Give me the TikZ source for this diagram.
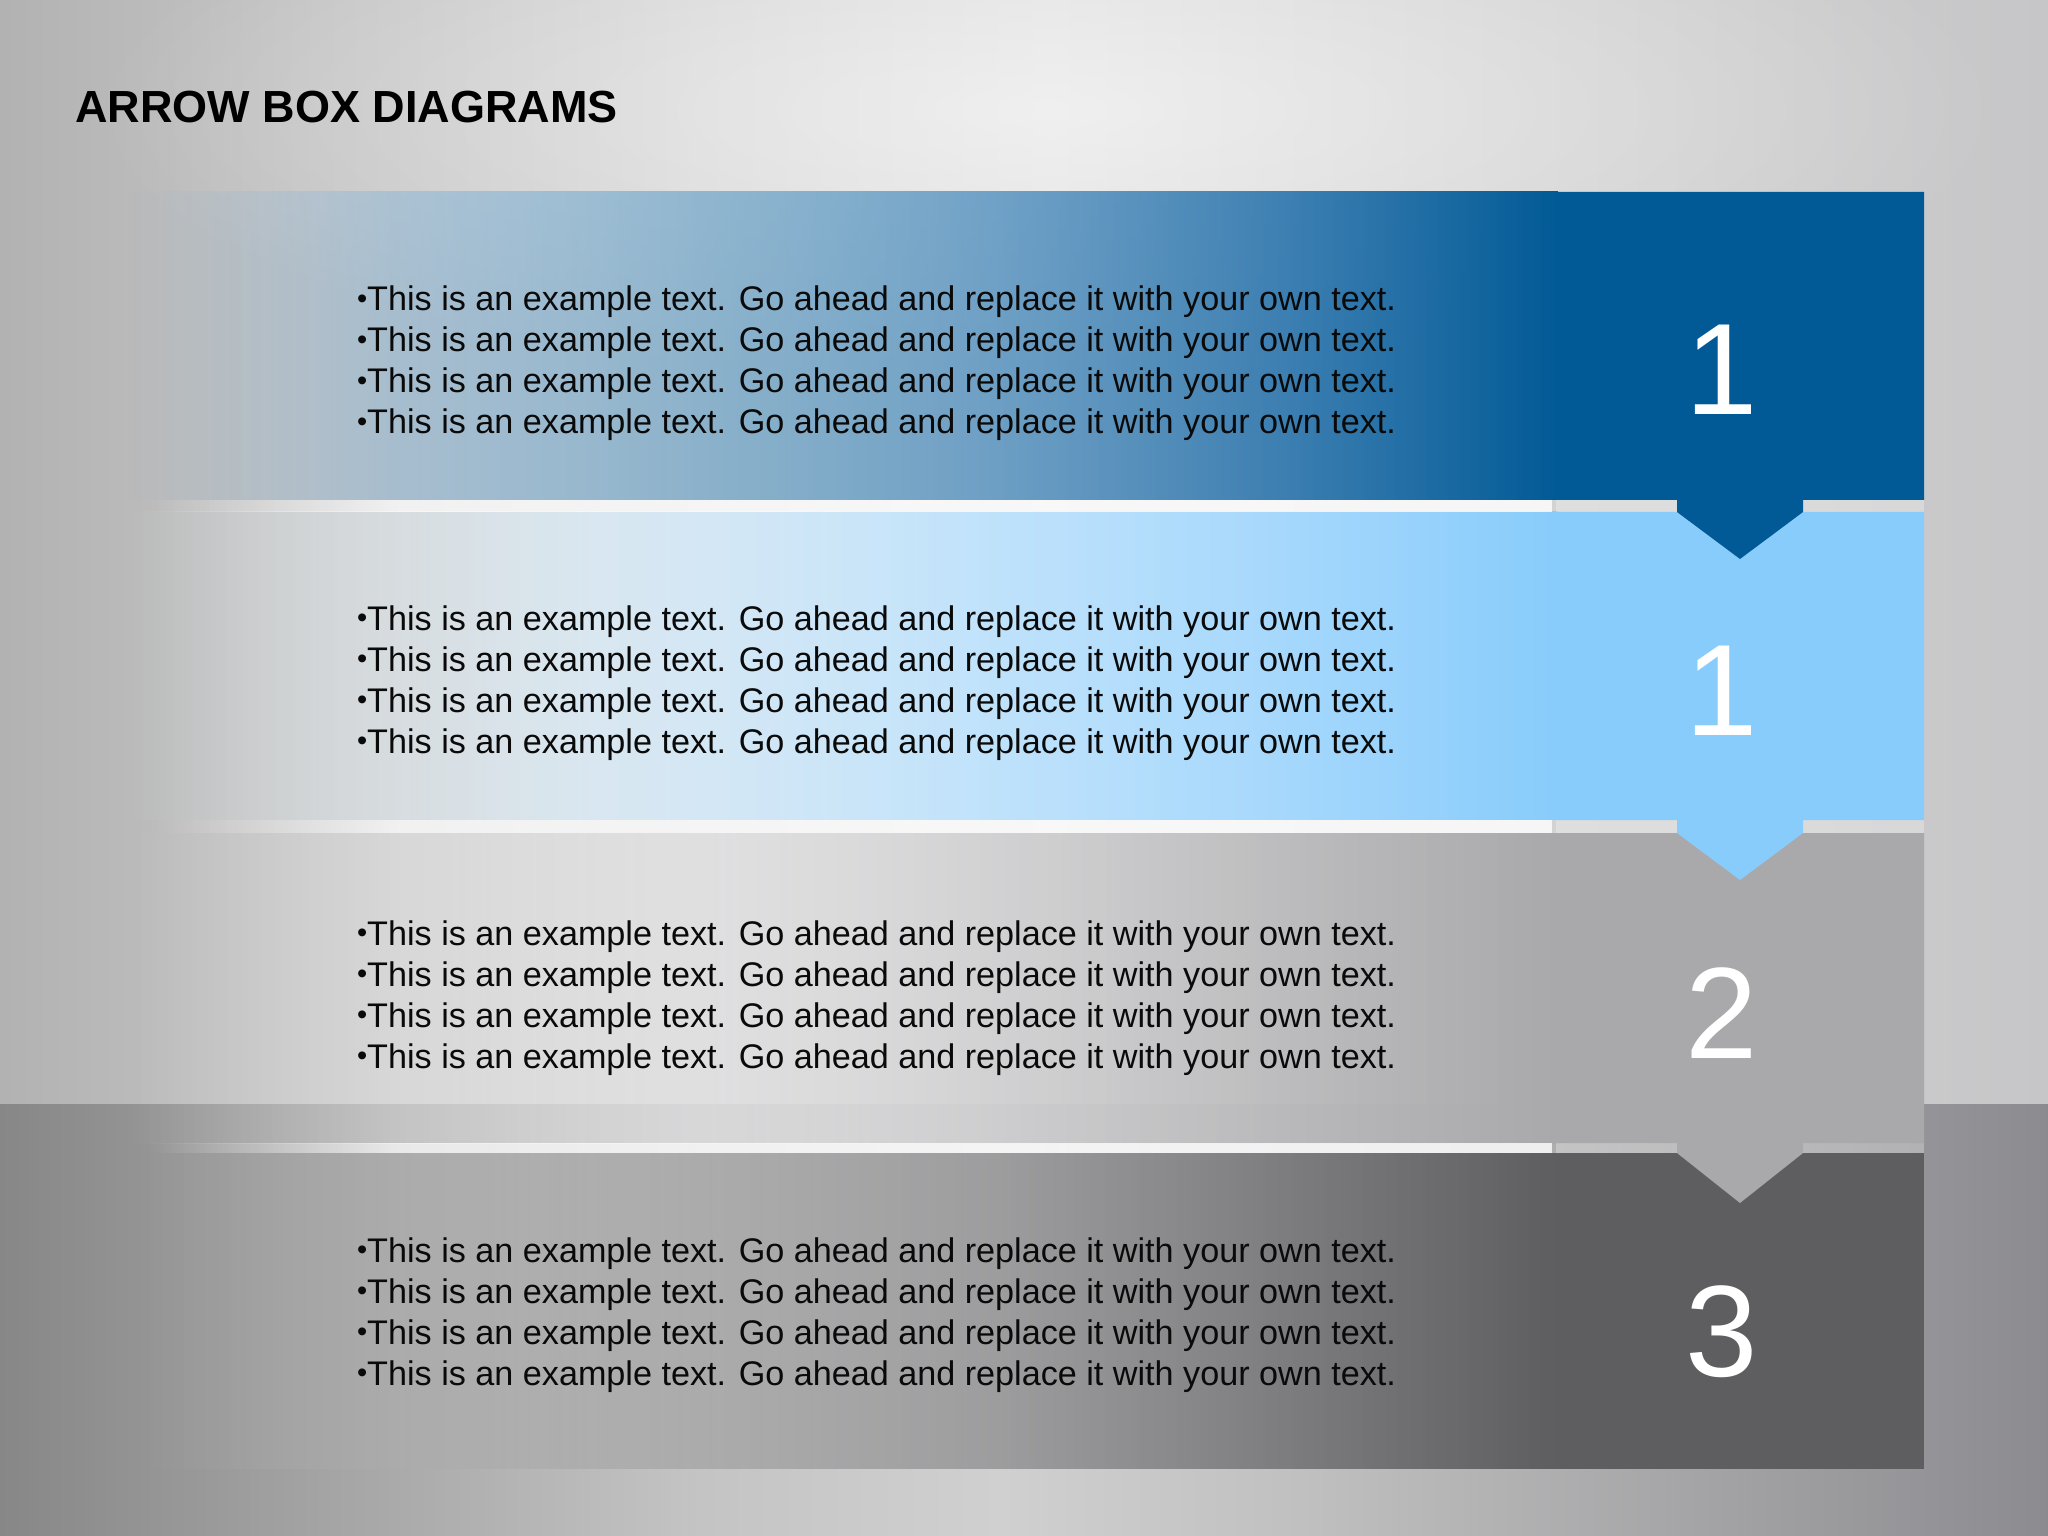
\documentclass[tikz,border=0pt]{standalone}
\usepackage{fontspec}
\setmainfont{Liberation Sans}
\usetikzlibrary{fadings}

% background colours
\definecolor{bgu0}{HTML}{B2B2B2}
\definecolor{bgu1}{HTML}{C4C4C4}
\definecolor{bgu2}{HTML}{D6D6D6}
\definecolor{bgu3}{HTML}{E0E0E0}
\definecolor{bgu4}{HTML}{D4D4D4}
\definecolor{bgu5}{HTML}{C6C6C8}
\definecolor{bgd0}{HTML}{878787}
\definecolor{bgd1}{HTML}{A2A2A2}
\definecolor{bgd2}{HTML}{C4C4C4}
\definecolor{bgd3}{HTML}{D0D0D0}
\definecolor{bgd4}{HTML}{C0C0C0}
\definecolor{bgd5}{HTML}{A4A4A6}
\definecolor{bgd6}{HTML}{8C8B90}

% band colours
\definecolor{b1a}{HTML}{7AB3DD}
\definecolor{b1b}{HTML}{68A9DA}
\definecolor{b1c}{HTML}{5095C2}
\definecolor{b1d}{HTML}{4789BB}
\definecolor{b1e}{HTML}{2873AC}
\definecolor{b1f}{HTML}{015A96}
\definecolor{b2a}{HTML}{F3FBFF}
\definecolor{b2b}{HTML}{F0FAFF}
\definecolor{b2c}{HTML}{DCF1FF}
\definecolor{b2d}{HTML}{BCE3FF}
\definecolor{b2e}{HTML}{A3D7FE}
\definecolor{b2f}{HTML}{88CCFC}
\definecolor{b3a}{HTML}{F6F6F8}
\definecolor{b3b}{HTML}{F4F4F6}
\definecolor{b3c}{HTML}{E8E8EA}
\definecolor{b3d}{HTML}{CDCDCF}
\definecolor{b3e}{HTML}{B8B8BA}
\definecolor{b3f}{HTML}{A9A9AB}
\definecolor{b4a}{HTML}{B4B4B4}
\definecolor{b4b}{HTML}{AEAEAE}
\definecolor{b4c}{HTML}{989899}
\definecolor{b4d}{HTML}{8C8C8E}
\definecolor{b4e}{HTML}{747477}
\definecolor{b4f}{HTML}{5E5E61}
\definecolor{txtcol}{HTML}{0A0A0A}

\colorlet{fa1}{white!35!black}
\colorlet{fa2}{white!55!black}
\colorlet{fa3}{white!75!black}
\colorlet{fa4}{white!90!black}
\colorlet{fb1}{white!30!black}
\colorlet{fb2}{white!70!black}
\colorlet{fb3}{white!90!black}
\colorlet{fb4}{white!97!black}
\colorlet{fs1}{white!75!black}
\colorlet{fs2}{white!80!black}

\pgfdeclarehorizontalshading{bgup}{100bp}{color(0bp)=(bgu0); color(25bp)=(bgu0); color(32.32bp)=(bgu1); color(42.09bp)=(bgu2); color(50.63bp)=(bgu3); color(61.62bp)=(bgu4); color(75bp)=(bgu5); color(100bp)=(bgu5)}
\pgfdeclarehorizontalshading{bgdown}{100bp}{color(0bp)=(bgd0); color(25bp)=(bgd0); color(32.32bp)=(bgd1); color(42.09bp)=(bgd2); color(49.41bp)=(bgd3); color(56.74bp)=(bgd4); color(66.5bp)=(bgd5); color(75bp)=(bgd6); color(100bp)=(bgd6)}

\pgfdeclarehorizontalshading{bandfadeshade}{100bp}{color(0bp)=(black); color(25bp)=(black); color(34.43bp)=(fa1); color(44.9bp)=(fa2); color(55.38bp)=(fa3); color(65.85bp)=(fa4); color(75bp)=(white); color(100bp)=(white)}
\pgfdeclarefading{bandfade}{\pgfuseshading{bandfadeshade}}
\pgfdeclarehorizontalshading{bandfadeshadeB}{100bp}{color(0bp)=(black); color(25bp)=(black); color(30.94bp)=(fb1); color(41.41bp)=(fb2); color(55.38bp)=(fb3); color(65.85bp)=(fb4); color(75bp)=(white); color(100bp)=(white)}
\pgfdeclarefading{bandfadeB}{\pgfuseshading{bandfadeshadeB}}
\pgfdeclarehorizontalshading{stripfadeshade}{100bp}{color(0bp)=(black); color(25bp)=(black); color(33.9bp)=(fs1); color(75bp)=(fs2); color(100bp)=(fs2)}
\pgfdeclarefading{stripfade}{\pgfuseshading{stripfadeshade}}
\tikzfading[name=softglow, inner color=transparent!0, outer color=transparent!100]

\pgfdeclarehorizontalshading{bandone}{100bp}{color(0bp)=(b1a); color(25bp)=(b1a); color(34.43bp)=(b1b); color(44.9bp)=(b1c); color(55.38bp)=(b1d); color(65.85bp)=(b1e); color(75bp)=(b1f); color(100bp)=(b1f)}
\pgfdeclarehorizontalshading{bandtwo}{100bp}{color(0bp)=(b2a); color(25bp)=(b2a); color(30.94bp)=(b2b); color(41.41bp)=(b2c); color(55.38bp)=(b2d); color(65.85bp)=(b2e); color(75bp)=(b2f); color(100bp)=(b2f)}
\pgfdeclarehorizontalshading{bandthree}{100bp}{color(0bp)=(b3a); color(25bp)=(b3a); color(34.43bp)=(b3b); color(44.9bp)=(b3c); color(55.38bp)=(b3d); color(65.85bp)=(b3e); color(75bp)=(b3f); color(100bp)=(b3f)}
\pgfdeclarehorizontalshading{bandfour}{100bp}{color(0bp)=(b4a); color(25bp)=(b4a); color(34.43bp)=(b4b); color(44.9bp)=(b4c); color(55.38bp)=(b4d); color(65.85bp)=(b4e); color(75bp)=(b4f); color(100bp)=(b4f)}

\tikzset{
  txt/.style={anchor=base west, inner sep=0pt, text=txtcol, font=\fontsize{24.3}{29}\selectfont},
  num/.style={anchor=base, inner sep=0pt, text=white, font=\fontsize{92.5}{100}\selectfont},
  ttl/.style={anchor=base west, inner sep=0pt, text=black, font=\bfseries\fontsize{32}{36}\selectfont},
  stripbox/.style={fill=white, path fading=stripfade},
  gapbox/.style={fill=white, opacity=0.28}
}

\newcommand{\smallbul}{\makebox[0.35em][r]{\raisebox{0.12ex}{\scalebox{0.85}{\textbullet}}}}
\newcommand{\exline}{\smallbul This is an example text. Go ahead and replace it with your own text.}

\begin{document}
\begin{tikzpicture}[x=0.025cm, y=-0.025cm]
\useasboundingbox (0,0) rectangle (2048,1536);
% background
\shade[shading=bgup] (0,0) rectangle (2048,1104);
\shade[shading=bgdown] (0,1104) rectangle (2048,1536);
\fill[white, opacity=0.5, path fading=softglow] (1050,110) ellipse [x radius=24cm, y radius=7cm];

% translucent long bands (extend slightly under the solid blocks)
\shade[shading=bandone, path fading=bandfade] (130,192) rectangle (1562,500);
\shade[shading=bandtwo, path fading=bandfadeB] (130,512) rectangle (1562,820);
\shade[shading=bandthree, path fading=bandfade] (130,833) rectangle (1562,1143);
\shade[shading=bandfour, path fading=bandfade] (130,1153) rectangle (1562,1469);

% light strips between bands
\fill[stripbox] (150,500) rectangle (1556,512);
\fill[stripbox] (150,820) rectangle (1556,833);
\fill[stripbox] (150,1143) rectangle (1556,1153);
\fill[gapbox] (1556,500) rectangle (1924,512);
\fill[gapbox] (1556,820) rectangle (1924,833);
\fill[gapbox] (1556,1143) rectangle (1924,1153);

% solid blocks with arrow tabs (bottom first, so tabs overlap the next block)
\fill[b4f] (1554,1153) rectangle (1924,1469);
\fill[b3f] (1554,833) -- (1924,833) -- (1924,1143) -- (1803,1143) -- (1803,1153) -- (1740,1203) -- (1677,1153) -- (1677,1143) -- (1554,1143) -- cycle;
\fill[b2f] (1554,512) -- (1924,512) -- (1924,820) -- (1803,820) -- (1803,833) -- (1740,880) -- (1677,833) -- (1677,820) -- (1554,820) -- cycle;
\fill[b1f] (1554,192) -- (1924,192) -- (1924,500) -- (1803,500) -- (1803,512) -- (1740,559) -- (1677,512) -- (1677,500) -- (1554,500) -- cycle;

% title
\node[ttl] (title) at (75,123) {ARROW BOX DIAGRAMS};

% texts
\node[txt] (t11) at (355,311) {\exline};
\node[txt] (t12) at (355,352) {\exline};
\node[txt] (t13) at (355,393) {\exline};
\node[txt] (t14) at (355,434) {\exline};

\node[txt] (t21) at (355,630) {\exline};
\node[txt] (t22) at (355,671) {\exline};
\node[txt] (t23) at (355,712) {\exline};
\node[txt] (t24) at (355,753) {\exline};

\node[txt] (t31) at (355,945) {\exline};
\node[txt] (t32) at (355,986) {\exline};
\node[txt] (t33) at (355,1027) {\exline};
\node[txt] (t34) at (355,1068) {\exline};

\node[txt] (t41) at (355,1262) {\exline};
\node[txt] (t42) at (355,1303) {\exline};
\node[txt] (t43) at (355,1344) {\exline};
\node[txt] (t44) at (355,1385) {\exline};

% numbers
\node[num] (n1) at (1722,415) {1};
\node[num] (n2) at (1722,735) {1};
\node[num] (n3) at (1722,1058) {2};
\node[num] (n4) at (1722,1376) {3};
\end{tikzpicture}
\end{document}
